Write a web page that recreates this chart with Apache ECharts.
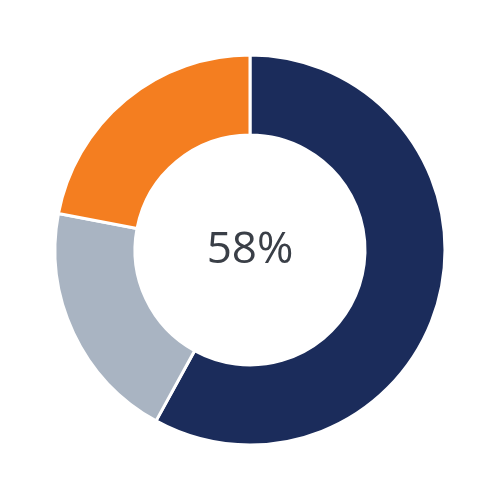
<!DOCTYPE html>
<html><head><meta charset="utf-8">
<script src="https://cdn.jsdelivr.net/npm/echarts@6/dist/echarts.min.js"></script>
<style>html,body{margin:0;padding:0;background:#fff}#c{width:500px;height:500px}</style>
</head><body><div id="c"></div>
<script>
var categories = ['A', 'B', 'C'];
var values = [58, 20, 22];
var colors = ['#1b2c5b', '#a9b4c2', '#f47e20'];
var centerLabel = '58%';
var chart = echarts.init(document.getElementById('c'));
chart.setOption({
  animation: false,
  title: { text: centerLabel, left: 'center', top: 'middle',
    textStyle: { fontSize: 44, fontWeight: 'normal', color: '#3a3f47', fontFamily: 'Open Sans' } },
  series: [{
    type: 'pie', radius: ['46%', '78%'], center: ['50%', '50%'],
    startAngle: 90, clockwise: true, label: { show: false },
    itemStyle: { borderColor: '#fff', borderWidth: 3 },
    data: categories.map(function (c, i) { return { name: c, value: values[i], itemStyle: { color: colors[i] } }; })
  }]
});
</script></body></html>
